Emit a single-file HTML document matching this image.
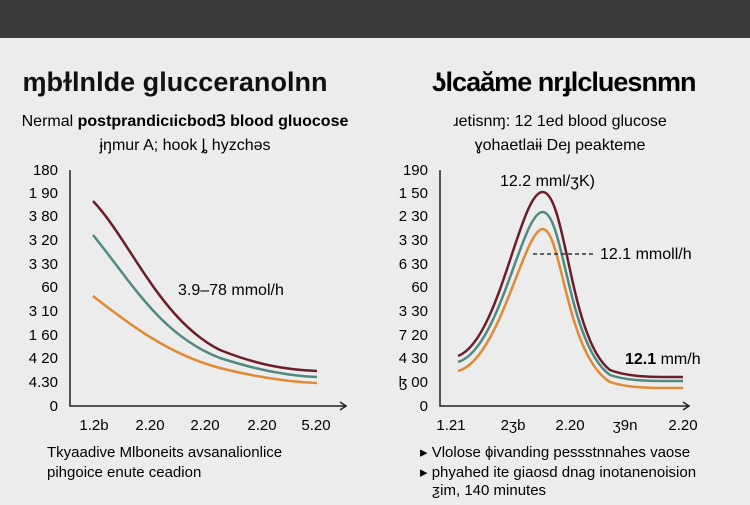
<!DOCTYPE html>
<html><head><meta charset="utf-8"><style>
body{margin:0;width:750px;height:500px;background:#ececec;overflow:hidden;font-family:"Liberation Sans",sans-serif;color:#111}
</style></head><body>
<svg width="750" height="500" xmlns="http://www.w3.org/2000/svg" font-family="Liberation Sans, sans-serif">
<rect x="0" y="0" width="750" height="38" fill="#3b3b3b"/>
<text x="175" y="91" font-size="27" font-weight="bold" text-anchor="middle" fill="#111" textLength="305">ɱbɫlnlde glucceranolnn</text>
<text x="185" y="126" font-size="16" text-anchor="middle">Nermal <tspan font-weight="bold">postprandicιicbodꞫ blood gluocose</tspan></text>
<text x="185" y="150" font-size="16" text-anchor="middle">ɉŋmur A; hook ȴ hyzchəs</text>
<text x="564" y="91" font-size="27" font-weight="bold" text-anchor="middle" textLength="265">ʖlcaăme nrɟlcluesnmn</text>
<text x="560" y="126" font-size="16" text-anchor="middle">ɹetisnɱ: 12 1ed blood glucose</text>
<text x="560" y="150" font-size="16" text-anchor="middle">ɣohaetlaɨɨ Deȷ peakteme</text>
<g stroke="#222" stroke-width="1.5" fill="none">
<path d="M70 170 V406 H345"/><path d="M340 402 L346 406 L340 410"/>
<path d="M440 170 V406 H688"/><path d="M683 402 L689 406 L683 410"/>
</g>
<g font-size="15" text-anchor="end">
<text x="58" y="175">180</text><text x="58" y="198">1 90</text><text x="58" y="221">3 80</text><text x="58" y="245">3 20</text><text x="58" y="269">3 30</text><text x="58" y="292">60</text><text x="58" y="316">3 10</text><text x="58" y="340">1 60</text><text x="58" y="363">4 20</text><text x="58" y="387">4.30</text><text x="58" y="411">0</text>
<text x="428" y="175">190</text><text x="428" y="198">1 50</text><text x="428" y="221">2 30</text><text x="428" y="245">3 30</text><text x="428" y="269">6 30</text><text x="428" y="292">60</text><text x="428" y="316">3 30</text><text x="428" y="340">7 20</text><text x="428" y="363">4 30</text><text x="428" y="387">ɮ 00</text><text x="428" y="411">0</text>
</g>
<g font-size="15" text-anchor="middle">
<text x="94" y="430">1.2b</text><text x="150" y="430">2.20</text><text x="205" y="430">2.20</text><text x="262" y="430">2.20</text><text x="316" y="430">5.20</text>
<text x="451" y="430">1.21</text><text x="513" y="430">2ʒb</text><text x="570" y="430">2.20</text><text x="625" y="430">ʒ9n</text><text x="683" y="430">2.20</text>
</g>
<g fill="none" stroke-width="2.5">
<path d="M93 201 C130 240 160 320 220 350 C260 366 290 370 317 371" stroke="#6b1e2a"/>
<path d="M93 235 C130 280 160 335 220 358 C260 371 290 376 317 377" stroke="#4f8a80"/>
<path d="M93 296 C130 325 170 355 220 368 C260 378 290 382 317 383" stroke="#e08a35"/>
<path d="M458 356 C500 340 520 190 543 192 C566 194 570 340 610 370 C630 378 660 377 683 377" stroke="#6b1e2a"/>
<path d="M458 362 C500 350 522 210 543 212 C564 214 568 345 610 375 C630 382 660 381 683 381" stroke="#4f8a80"/>
<path d="M458 371 C500 360 524 228 543 229 C562 231 566 355 610 382 C630 389 660 388 683 388" stroke="#e08a35"/>
</g>
<path d="M533 254 H596" stroke="#333" stroke-dasharray="4 3" stroke-width="1.5"/>
<text x="178" y="295" font-size="16">3.9–78 mmol/h</text>
<text x="500" y="186" font-size="16">12.2 mml/ʒK)</text>
<text x="600" y="259" font-size="16">12.1 mmoll/h</text>
<text x="625" y="364" font-size="16"><tspan font-weight="bold">12.1</tspan> mm/h</text>
<text x="47" y="457" font-size="15">Tkyaadive Mlboneits avsanalionlice</text>
<text x="47" y="477" font-size="15">pihgoice enute ceadion</text>
<text x="420" y="457" font-size="15">▸ Vlolose ɸivanding pessstnnahes vaose</text>
<text x="420" y="477" font-size="15">▸ phyahed ite giaosd dnag inotanenoision</text>
<text x="432" y="495" font-size="15">ƺim, 140 minutes</text>
</svg>
</body></html>
